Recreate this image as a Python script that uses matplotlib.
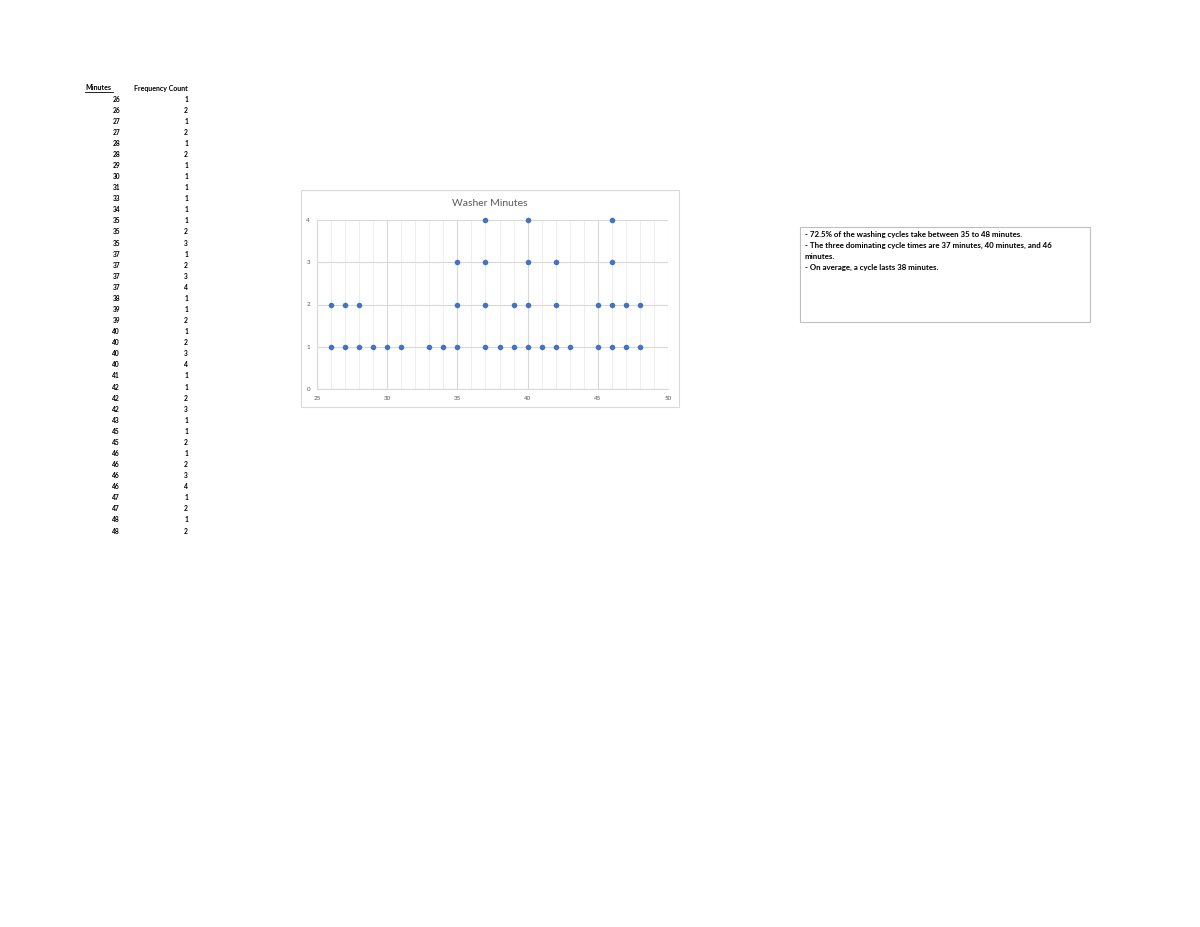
import matplotlib
matplotlib.use("Agg")
import matplotlib.pyplot as plt
from matplotlib.patches import Rectangle
from matplotlib.lines import Line2D
from matplotlib.ticker import MultipleLocator

plt.rcParams['font.family'] = ['Lato', 'DejaVu Sans']

# Washer data (minutes, running frequency count)
minutes = [26, 26, 27, 27, 28, 28, 29, 30, 31, 33, 34, 35, 35, 35,
           37, 37, 37, 37, 38, 39, 39, 40, 40, 40, 40, 41, 42, 42, 42,
           43, 45, 45, 46, 46, 46, 46, 47, 47, 48, 48]
freq = [1, 2, 1, 2, 1, 2, 1, 1, 1, 1, 1, 1, 2, 3,
        1, 2, 3, 4, 1, 1, 2, 1, 2, 3, 4, 1, 1, 2, 3,
        1, 1, 2, 1, 2, 3, 4, 1, 2, 1, 2]

title = "Washer Minutes"
notes = [
    "- 72.5% of the washing cycles take between 35 to 48 minutes.",
    "- The three dominating cycle times are 37 minutes, 40 minutes, and 46",
    "minutes.",
    "- On average, a cycle lasts 38 minutes.",
]

W, H = 1200, 927
fig = plt.figure(figsize=(W / 100, H / 100), dpi=100)
fig.patch.set_facecolor('white')


def fx(px):
    return px / W


def fy(py):
    return 1 - py / H


# Table on the left
fig.text(fx(85), fy(88), "Minutes", fontsize=5, fontweight='bold',
         ha='left', va='center')
fig.add_artist(Line2D([fx(85), fx(113)], [fy(92), fy(92)], color='black', lw=0.6))
fig.text(fx(188), fy(88), "Frequency Count", fontsize=5, fontweight='bold',
         ha='right', va='center')
row_h = (531 - 99) / 39
for i, (m, f) in enumerate(zip(minutes, freq)):
    y = fy(99 + i * row_h)
    fig.text(fx(120), y, str(m), fontsize=4.8, fontweight='bold', ha='right', va='center')
    fig.text(fx(188), y, str(f), fontsize=4.8, fontweight='bold', ha='right', va='center')

# Chart frame
fig.add_artist(Rectangle((fx(301), fy(407)), fx(679) - fx(301), fy(190) - fy(407),
                         transform=fig.transFigure, fill=False,
                         edgecolor='#d9d9d9', lw=0.8))
fig.text(fx(490), fy(204), title, fontsize=7.5, color='#595959',
         ha='center', va='center')

ax = fig.add_axes([fx(317), fy(389), fx(668) - fx(317), fy(220) - fy(389)])
ax.scatter(minutes, freq, s=16, color='#4472C4', zorder=3, linewidths=0,
           clip_on=False)
ax.set_xlim(25, 50)
ax.set_ylim(0, 4)
ax.xaxis.set_major_locator(MultipleLocator(5))
ax.xaxis.set_minor_locator(MultipleLocator(1))
ax.yaxis.set_major_locator(MultipleLocator(1))
ax.grid(which='major', color='#d9d9d9', lw=0.8)
ax.grid(which='minor', axis='x', color='#ebebeb', lw=0.6)
ax.set_axisbelow(True)
for s in ['top', 'right']:
    ax.spines[s].set_visible(False)
for s in ['left', 'bottom']:
    ax.spines[s].set_color('#d9d9d9')
    ax.spines[s].set_linewidth(0.8)
ax.tick_params(which='both', length=0, labelsize=4.5, labelcolor='#595959', pad=5)

# Notes box
fig.add_artist(Rectangle((fx(800), fy(322)), fx(1090) - fx(800), fy(227) - fy(322),
                         transform=fig.transFigure, fill=False,
                         edgecolor='#bfbfbf', lw=0.8))
for i, line in enumerate(notes):
    fig.text(fx(805), fy(234 + i * 11.3), line, fontsize=5.7, fontweight='bold',
             ha='left', va='center')

fig.savefig("out.png", dpi=100, facecolor='white')
